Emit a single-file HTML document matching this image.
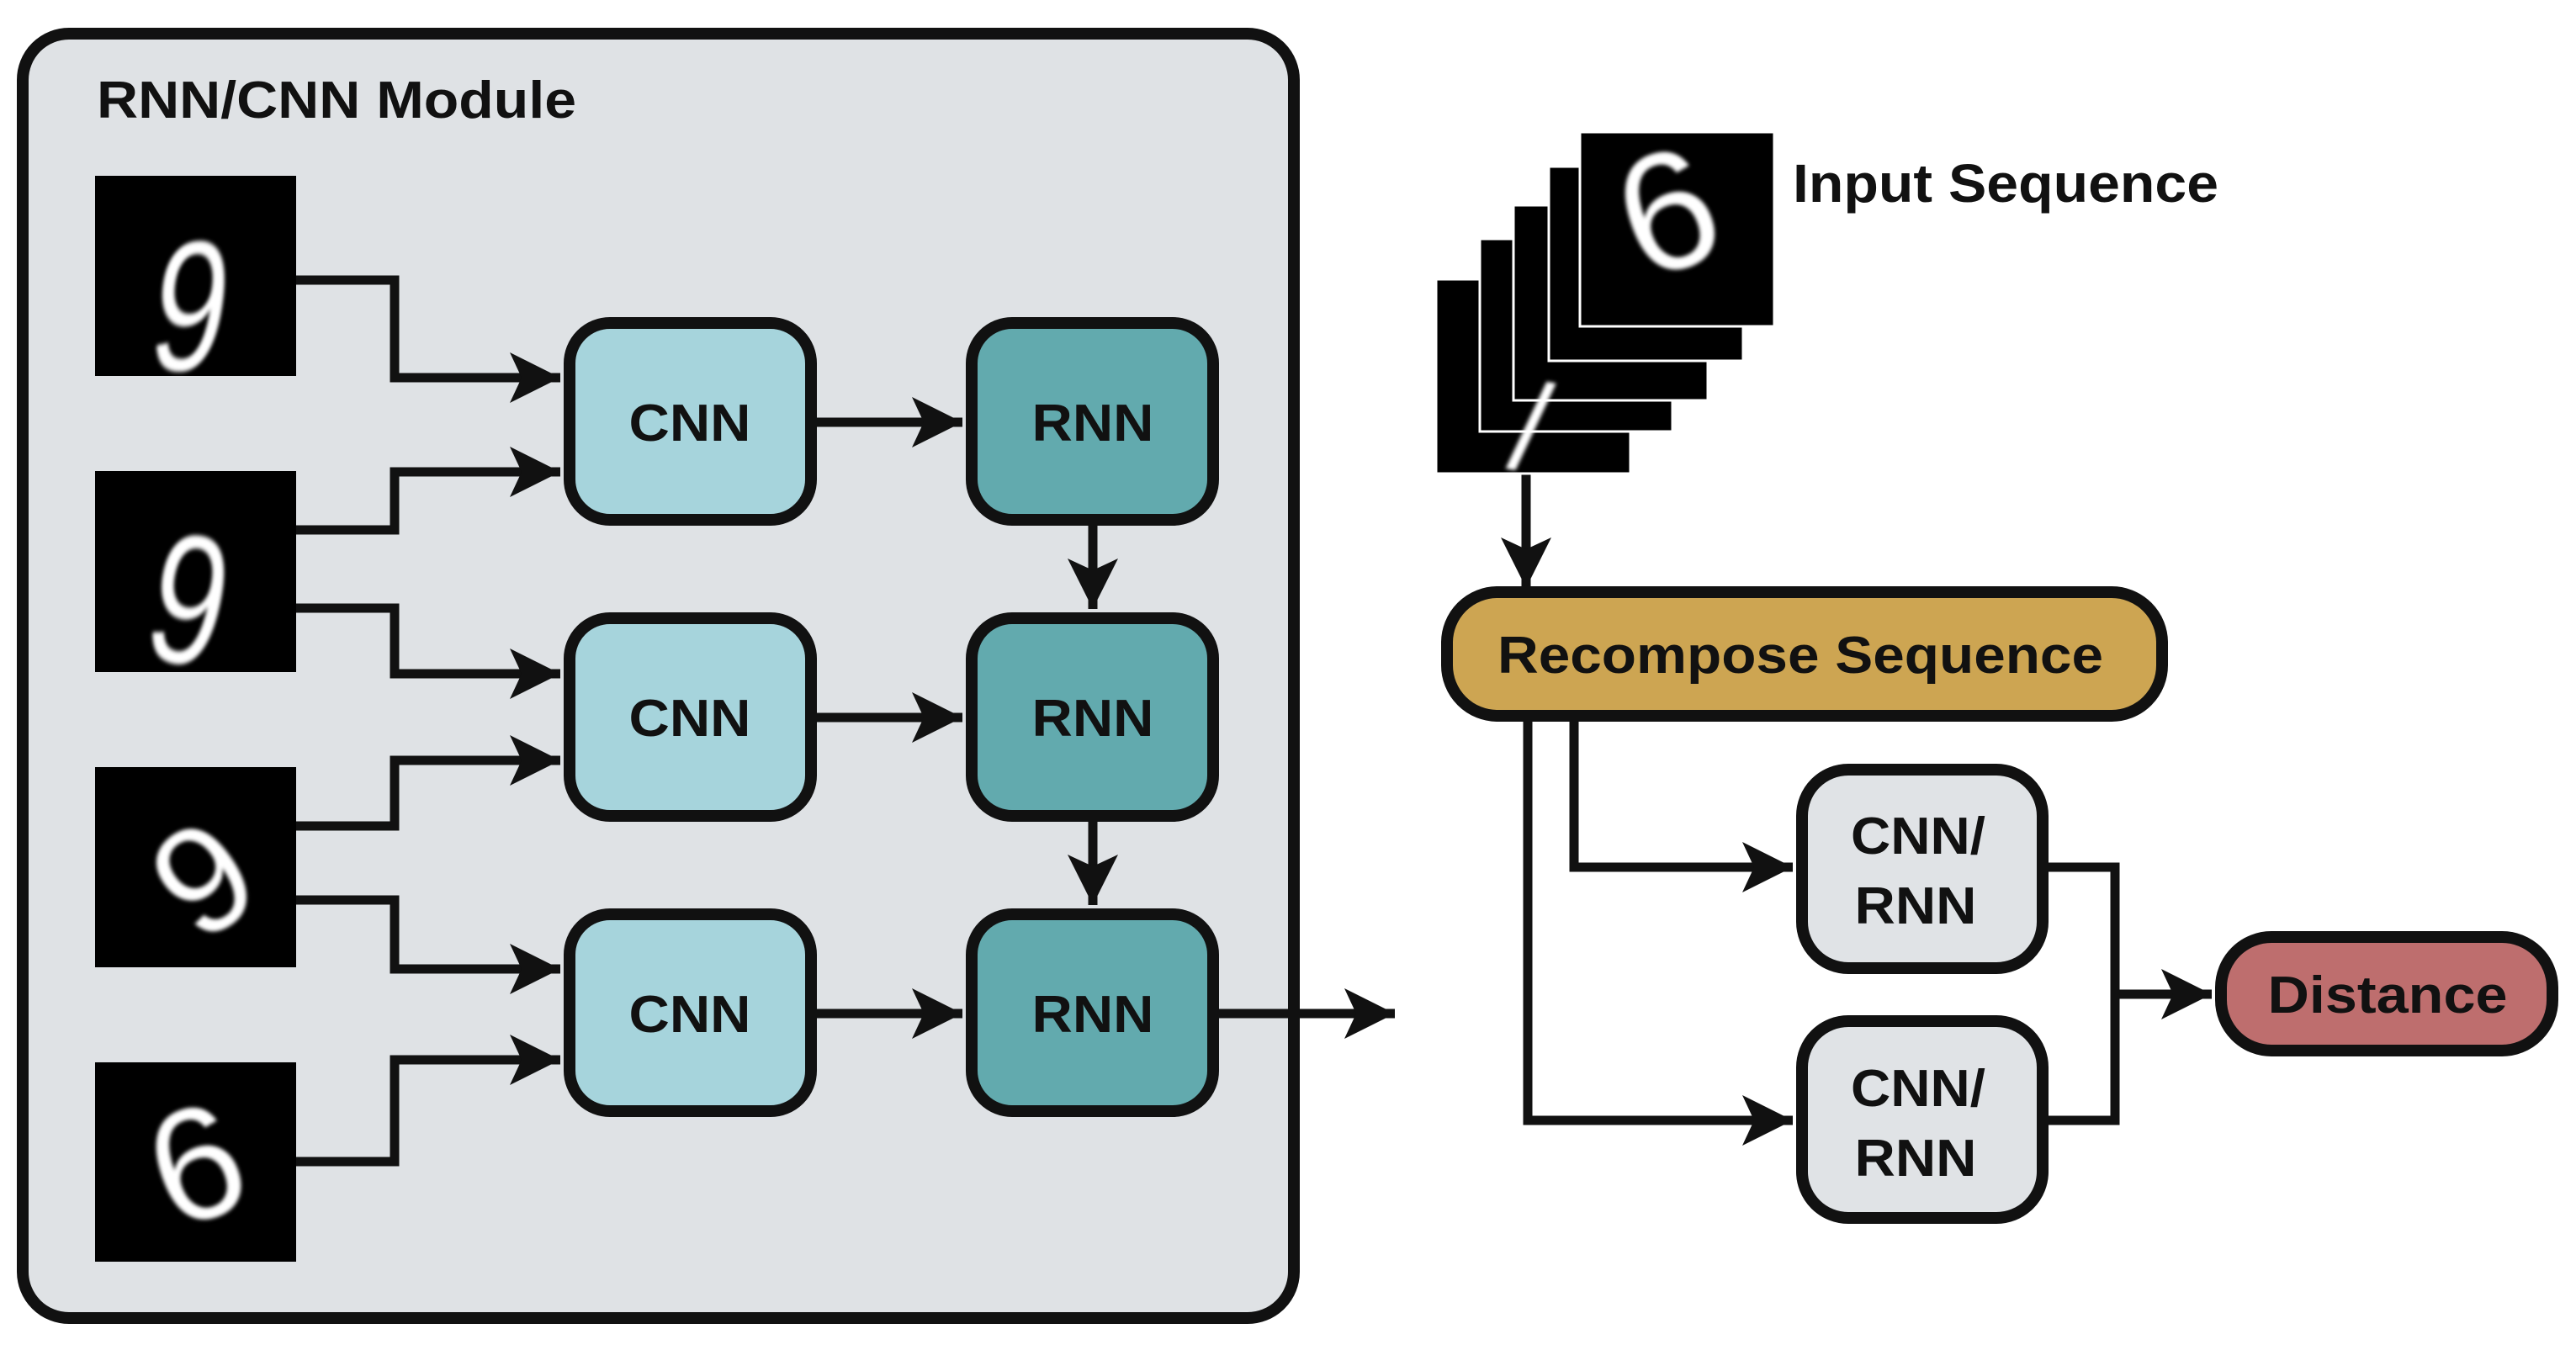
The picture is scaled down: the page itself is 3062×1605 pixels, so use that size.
<!DOCTYPE html>
<html><head><meta charset="utf-8"><style>html,body{margin:0;padding:0;background:#fff}svg{display:block}</style></head>
<body>
<svg width="3062" height="1605" viewBox="0 0 3062 1605" xmlns="http://www.w3.org/2000/svg" font-family="Liberation Sans, Arial, sans-serif" font-weight="bold">
<defs>
<marker id="ah" markerUnits="userSpaceOnUse" markerWidth="64" markerHeight="60" refX="60" refY="30" orient="auto">
<path d="M0,0 L60,30 L0,60 L14,30 Z" fill="#111"/>
</marker>
<filter id="bl"><feGaussianBlur stdDeviation="2.5"/></filter>
</defs>
<rect x="27" y="40" width="1511" height="1527" rx="55" fill="#DFE2E5" stroke="#111" stroke-width="14"/>
<text x="115" y="140" font-size="62" textLength="570" lengthAdjust="spacingAndGlyphs" fill="#111">RNN/CNN Module</text>

<g>
<rect x="113" y="209" width="239" height="238" fill="#000"/>
<text x="232" y="430" font-size="200" fill="#fff" text-anchor="middle" font-weight="normal" filter="url(#bl)" transform="translate(232 330) skewX(-8) scale(0.8 1.1) translate(-232 -330)">9</text>
<rect x="113" y="560" width="239" height="239" fill="#000"/>
<text x="232" y="780" font-size="200" fill="#fff" text-anchor="middle" font-weight="normal" filter="url(#bl)" transform="rotate(12 232 680) translate(232 680) scale(0.8 1.1) translate(-232 -680)">9</text>
<rect x="113" y="912" width="239" height="238" fill="#000"/>
<text x="232" y="1110" font-size="180" fill="#fff" text-anchor="middle" font-weight="normal" filter="url(#bl)" transform="rotate(-35 232 1031)">9</text>
<rect x="113" y="1263" width="239" height="237" fill="#000"/>
<text x="232" y="1450" font-size="190" fill="#fff" text-anchor="middle" font-weight="normal" filter="url(#bl)" transform="rotate(-20 232 1381)">6</text>
</g>

<g fill="none" stroke="#111" stroke-width="11" stroke-linejoin="miter">
<polyline points="352,333 469,333 469,449 666,449" marker-end="url(#ah)"/>
<polyline points="352,630 469,630 469,561 666,561" marker-end="url(#ah)"/>
<polyline points="352,723 469,723 469,801 666,801" marker-end="url(#ah)"/>
<polyline points="352,982 469,982 469,904 666,904" marker-end="url(#ah)"/>
<polyline points="352,1070 469,1070 469,1152 666,1152" marker-end="url(#ah)"/>
<polyline points="352,1381 469,1381 469,1260 666,1260" marker-end="url(#ah)"/>
<line x1="971" y1="502" x2="1144" y2="502" marker-end="url(#ah)"/>
<line x1="971" y1="853" x2="1144" y2="853" marker-end="url(#ah)"/>
<line x1="971" y1="1205" x2="1144" y2="1205" marker-end="url(#ah)"/>
<line x1="1299" y1="625" x2="1299" y2="724" marker-end="url(#ah)"/>
<line x1="1299" y1="977" x2="1299" y2="1076" marker-end="url(#ah)"/>
<line x1="1449" y1="1205" x2="1658" y2="1205" marker-end="url(#ah)"/>
<line x1="1814" y1="563" x2="1814" y2="699" marker-end="url(#ah)"/>
<polyline points="1871,855 1871,1031 2131,1031" marker-end="url(#ah)"/>
<polyline points="1816,855 1816,1332 2131,1332" marker-end="url(#ah)"/>
<polyline points="2435,1031 2514,1031 2514,1332 2435,1332"/>
<line x1="2514" y1="1182" x2="2629" y2="1182" marker-end="url(#ah)"/>
</g>

<g stroke="#111" stroke-width="14">
<rect x="677" y="384" width="287" height="234" rx="48" fill="#A6D4DC"/>
<rect x="677" y="735" width="287" height="235" rx="48" fill="#A6D4DC"/>
<rect x="677" y="1087" width="287" height="234" rx="48" fill="#A6D4DC"/>
<rect x="1155" y="384" width="287" height="234" rx="48" fill="#62AAAE"/>
<rect x="1155" y="735" width="287" height="235" rx="48" fill="#62AAAE"/>
<rect x="1155" y="1087" width="287" height="234" rx="48" fill="#62AAAE"/>
<rect x="1720" y="704" width="850" height="147" rx="60" fill="#CDA552"/>
<rect x="2142" y="915" width="286" height="236" rx="55" fill="#E0E3E6"/>
<rect x="2142" y="1214" width="286" height="234" rx="55" fill="#E0E3E6"/>
<rect x="2640" y="1114" width="394" height="135" rx="60" fill="#BE6E6E"/>
</g>

<g font-size="62" fill="#111" text-anchor="middle">
<text x="820" y="524" textLength="145" lengthAdjust="spacingAndGlyphs">CNN</text>
<text x="820" y="875" textLength="145" lengthAdjust="spacingAndGlyphs">CNN</text>
<text x="820" y="1227" textLength="145" lengthAdjust="spacingAndGlyphs">CNN</text>
<text x="1299" y="524" textLength="145" lengthAdjust="spacingAndGlyphs">RNN</text>
<text x="1299" y="875" textLength="145" lengthAdjust="spacingAndGlyphs">RNN</text>
<text x="1299" y="1227" textLength="145" lengthAdjust="spacingAndGlyphs">RNN</text>
<text x="2140" y="800" textLength="720" lengthAdjust="spacingAndGlyphs">Recompose Sequence</text>
<text x="2280" y="1015" textLength="160" lengthAdjust="spacingAndGlyphs">CNN/</text>
<text x="2277" y="1098" textLength="145" lengthAdjust="spacingAndGlyphs">RNN</text>
<text x="2280" y="1315" textLength="160" lengthAdjust="spacingAndGlyphs">CNN/</text>
<text x="2277" y="1398" textLength="145" lengthAdjust="spacingAndGlyphs">RNN</text>
<text x="2838" y="1204" textLength="285" lengthAdjust="spacingAndGlyphs">Distance</text>
</g>

<g stroke="#fff" stroke-width="3" fill="#000">
<rect x="1707" y="332" width="231" height="231"/>
<rect x="1759" y="284" width="229" height="229"/>
<rect x="1799" y="244" width="231" height="232"/>
<rect x="1841" y="198" width="231" height="231"/>
<rect x="1878" y="157" width="231" height="231"/>
</g>
<text x="1800" y="560" font-size="150" fill="#fff" font-weight="normal" filter="url(#bl)" transform="rotate(10 1820 500)">/</text>
<text x="1985" y="320" font-size="200" fill="#fff" text-anchor="middle" font-weight="normal" filter="url(#bl)" transform="rotate(-20 1985 260)">6</text>
<text x="2131" y="240" font-size="64" fill="#111" textLength="506" lengthAdjust="spacingAndGlyphs">Input Sequence</text>
</svg>
</body></html>
